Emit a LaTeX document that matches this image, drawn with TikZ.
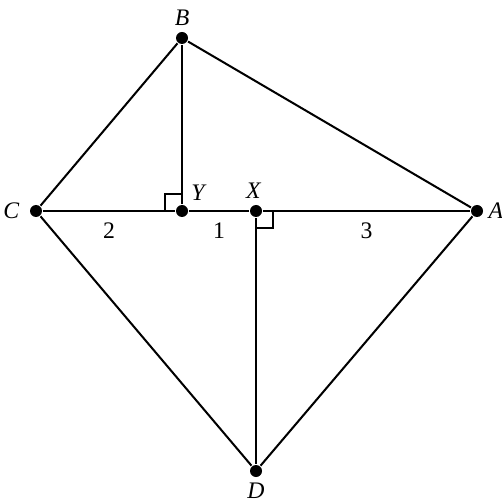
\documentclass[tikz,border=0pt]{standalone}
\usepackage{fontspec}
\setmainfont{Liberation Serif}
\usetikzlibrary{positioning}

\begin{document}
\begin{tikzpicture}[
    x=0.02cm,            % one unit = one pixel of the reference
    y=-0.02cm,           % y grows downwards
    line width=1.15pt,
    pt/.style={circle, fill=black, inner sep=0pt, minimum size=0.24cm},
    lbl/.style={inner sep=0pt, font=\fontsize{13.5}{15}\selectfont\itshape},
    num/.style={inner sep=0pt, font=\fontsize{13.5}{15}\selectfont}
]

    % --- Parameters ---
    \def\sq{17}   % size of the right angle marks

    \useasboundingbox (0,0) rectangle (502,502);

    % --- 1. Points ---
    \node[pt] (C) at (36,211) {};
    \node[pt] (Y) at (182,211) {};
    \node[pt] (X) at (256,211) {};
    \node[pt] (A) at (477,211) {};
    \node[pt] (B) at (182,38) {};
    \node[pt] (D) at (256,471) {};

    % --- 2. Diagonal AC with its parts ---
    \draw (C) -- node[num, below=6pt] {2} (Y)
              -- node[num, below=6pt] {1} (X)
              -- node[num, below=6pt] {3} (A);

    % --- 3. Sides and heights ---
    \draw (C) -- (B) -- (A) -- (D) -- (C);
    \draw (B) -- (Y);
    \draw (X) -- (D);

    % --- 4. Right angle marks ---
    \draw[line width=0.6pt] (Y.center) ++(-\sq,0) -- ++(0,-\sq) -- ++(\sq,0);
    \draw[line width=0.6pt] (X.center) ++(\sq,0) -- ++(0,\sq) -- ++(-\sq,0);

    % --- 5. Labels ---
    \node[lbl, above=2.5pt of B] (lB) {B};
    \node[lbl, below=2.5pt of D] (lD) {D};
    \node[lbl, left=5pt of C] (lC) {C};
    \node[lbl, right=2pt of A] (lA) {A};
    \node[lbl, above right=2.5pt and 2pt of Y] (lY) {Y};
    \node[lbl, above=2.5pt of X, xshift=-1.5pt] (lX) {X};

\end{tikzpicture}
\end{document}
